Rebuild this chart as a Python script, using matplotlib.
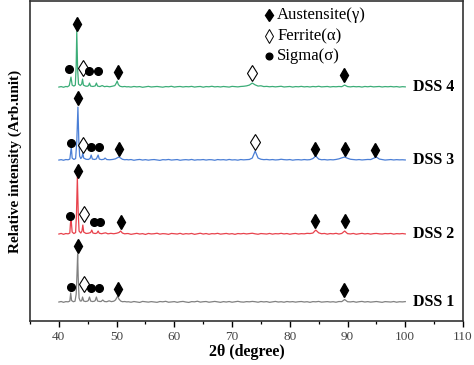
import numpy as np
import matplotlib
matplotlib.use("Agg")
import matplotlib.pyplot as plt
from matplotlib.ticker import MultipleLocator

plt.rcParams['font.family'] = ['Liberation Serif', 'DejaVu Serif']

# ---------------- data (intensity above each pattern's baseline, arb. units) -------------
labels = ["DSS 1", "DSS 2", "DSS 3", "DSS 4"]
colors = ["#808080", "#e8424c", "#4b7fd6", "#3cad78"]
offsets = [19, 87, 161, 234]

dss1_low = [(40.0,0),(40.4,0.5),(40.8,-0.3),(41.2,0.4),(41.6,0.2),(41.9,1),(42.05,9),(42.2,1.5),
            (42.5,0.3),(42.8,0.8),(43.0,8),(43.15,30),(43.25,48),(43.35,25),(43.5,4),(43.7,1),
            (43.95,1.2),(44.1,5),(44.3,1),(44.6,0.5),(44.9,0.8),(45.1,1.5),(45.3,5),(45.5,1),
            (45.8,0.5),(46.1,0.7),(46.3,1.5),(46.5,5),(46.7,1),(47.0,0.6),(47.3,0.5),(47.6,2),
            (47.9,0.5),(48.3,0.3),(48.7,1.2),(49.1,0.4),(49.5,0.8),(49.8,2),(50.0,4),(50.2,6),
            (50.4,3),(50.7,1),(51.0,0.3),(51.4,0.5),(51.8,0.1)]
dss2_low = [(40.0,0),(40.4,0.6),(40.8,-0.3),(41.2,0.5),(41.6,0.2),(41.9,1),(42.0,10),(42.1,16),
            (42.3,2),(42.6,0.5),(42.9,1.5),(43.05,20),(43.2,57),(43.35,22),(43.5,3),(43.8,1),
            (44.0,3),(44.15,9),(44.3,2),(44.7,0.6),(45.1,0.8),(45.5,1.5),(45.7,4),(45.9,1),
            (46.3,0.5),(46.6,1),(46.8,3),(47.0,0.8),(47.4,0.3),(47.8,0.9),(48.1,1.2),(48.5,0.2),
            (49.0,0.7),(49.5,0.3),(50.0,0.8),(50.4,1.5),(50.7,3),(51.0,1),(51.4,0.2),(51.8,0.5)]
dss3_low = [(40.0,0),(40.4,0.4),(40.8,-0.2),(41.2,0.5),(41.6,0.3),(41.9,1),(42.0,6),(42.15,13),
            (42.3,2),(42.6,0.6),(42.9,1.5),(43.1,18),(43.3,53),(43.45,20),(43.6,4),(43.8,1.5),
            (44.0,3),(44.15,7),(44.3,2),(44.7,0.8),(45.1,0.6),(45.4,1.5),(45.6,5),(45.8,1),
            (46.2,0.6),(46.5,1.2),(46.8,5),(47.0,1),(47.4,0.4),(47.8,0.8),(48.0,2),(48.3,0.5),
            (48.8,0.3),(49.3,0.6),(49.8,1.2),(50.2,2.5),(50.4,3),(50.7,2),(51.0,0.8),(51.4,0.3),
            (51.8,0.5)]
dss4_low = [(40.0,0),(40.4,0.5),(40.8,-0.2),(41.2,0.6),(41.5,0.3),(41.8,1.5),(41.95,6),(42.1,10),
            (42.3,2),(42.6,1),(42.85,2),(43.0,22),(43.1,56),(43.25,18),(43.4,3),(43.7,1.5),
            (43.95,3),(44.1,8),(44.25,2),(44.6,1),(44.9,0.8),(45.15,1.5),(45.3,4),(45.5,1),
            (45.9,0.6),(46.3,1.2),(46.5,4),(46.7,1),(47.1,0.5),(47.5,1.5),(47.9,0.4),(48.3,0.8),
            (48.8,0.3),(49.3,0.9),(49.7,1.5),(49.95,4),(50.1,6),(50.3,2.5),(50.6,0.8),(51.0,0.3),
            (51.4,0.6),(51.8,0.2)]

# 52.0 ... 100.0 every 0.5 degree
theta_high = np.arange(52.0, 100.01, 0.5)
dss1_high = [0.3,-0.2,0.5,0.1,-0.4,0.6,0.2,-0.1,0.4,0.0,
             -0.3,0.5,0.2,0.7,-0.2,0.1,0.4,-0.3,0.3,0.6,
             0.0,-0.4,0.4,0.2,0.8,-0.1,0.3,0.5,-0.2,0.2,
             0.6,0.1,-0.3,0.4,0.0,0.5,-0.2,0.3,0.7,0.1,
             -0.1,0.4,0.2,0.6,0.3,-0.2,0.5,0.1,0.4,-0.3,
             0.2,0.6,0.0,0.3,-0.2,0.5,0.1,0.4,-0.1,0.3,
             0.5,0.0,0.3,-0.3,0.4,0.2,0.6,-0.1,0.2,0.4,
             0.0,0.3,-0.2,0.5,0.4,2.5,0.3,0.1,0.5,-0.2,
             0.3,0.6,0.0,0.4,-0.1,0.2,0.5,0.1,-0.3,0.4,
             0.2,0.0,0.5,-0.2,0.3,0.1,0.4]
dss2_high = [0.5,-0.3,0.2,0.7,0.0,0.4,-0.4,0.6,0.1,0.3,
             0.8,-0.1,0.4,0.2,-0.3,0.6,0.3,0.0,0.7,-0.2,
             0.4,0.1,0.6,-0.3,0.3,0.8,0.0,0.5,-0.2,0.4,
             0.2,0.7,-0.1,0.3,0.6,0.0,0.4,-0.3,0.5,0.2,
             0.6,0.1,0.4,0.8,0.2,-0.2,0.5,0.3,0.0,0.6,
             -0.1,0.4,0.2,0.7,0.1,0.5,-0.2,0.3,0.6,0.0,
             0.4,0.2,0.7,0.5,1.0,4.0,1.2,0.3,0.6,-0.1,
             0.5,0.2,0.7,0.0,0.6,3.0,0.4,0.1,0.6,-0.2,
             0.3,0.7,0.1,0.5,-0.1,0.4,0.6,0.2,0.0,0.5,
             0.3,0.6,-0.1,0.4,0.2,0.5,0.1]
dss3_high = [0.2,0.5,-0.2,0.3,0.6,0.0,0.4,-0.1,0.3,0.5,
             0.1,-0.3,0.4,0.2,0.6,0.0,0.3,0.5,-0.2,0.2,
             0.4,0.1,0.6,-0.1,0.3,0.2,0.5,0.0,0.4,0.3,
             -0.2,0.5,0.2,0.4,0.0,0.6,0.1,0.3,-0.1,0.5,
             0.2,0.4,0.6,2.0,9.0,2.0,0.8,0.4,0.6,0.2,
             0.5,0.1,0.3,0.8,0.4,0.2,0.5,-0.1,0.3,0.4,
             0.1,0.5,0.2,0.4,1.5,4.0,1.0,0.3,0.5,0.1,
             0.4,0.2,0.6,1.2,2.2,3.0,1.8,0.8,0.5,0.2,
             0.5,0.1,0.4,0.6,0.5,1.8,3.0,1.0,0.5,0.0,
             0.3,0.5,0.1,0.4,0.2,0.3,0.1]
dss4_high = [0.4,0.0,0.6,0.2,0.5,-0.2,0.3,0.7,0.1,0.4,
             0.6,0.2,-0.1,0.5,0.3,0.8,0.0,0.4,0.6,0.1,
             0.5,0.3,0.7,0.0,0.4,0.6,-0.1,0.5,0.3,0.8,
             0.2,0.5,0.1,0.6,0.3,0.0,0.7,0.4,0.2,0.6,
             0.8,1.2,2.0,4.0,2.2,1.0,1.3,0.5,0.7,0.3,
             0.6,0.2,0.5,0.8,0.1,0.4,0.6,0.0,0.5,0.3,
             0.7,0.2,0.5,0.1,0.6,0.3,0.8,0.2,0.4,0.6,
             0.1,0.5,0.3,0.6,0.4,2.0,0.5,0.2,0.6,0.3,
             0.5,0.0,0.6,0.3,0.7,0.2,0.4,0.6,0.1,0.5,
             0.3,0.6,0.2,0.5,0.0,0.4,0.2]

lows = [dss1_low, dss2_low, dss3_low, dss4_low]
highs = [dss1_high, dss2_high, dss3_high, dss4_high]

# phase markers: (2theta, height on plot scale)
austenite = [(43.3,75),(50.2,32),(89.4,31),
             (43.3,150),(50.8,99),(84.4,100),(89.5,100),
             (43.3,223),(50.5,172),(84.3,172),(89.5,172),(94.8,171),
             (43.1,297),(50.2,249),(89.4,246)]
ferrite = [(44.3,37),(44.3,107),(44.2,176),(73.9,179),(44.1,253),(73.4,248)]
sigma = [(42.1,34),(45.6,33),(47.0,33),
         (42.0,105),(46.0,99),(47.1,99),
         (42.05,178),(45.6,174),(47.0,174),
         (41.8,252),(45.3,250),(46.7,250)]

legend_labels = ["Austensite(\u03b3)", "Ferrite(\u03b1)", "Sigma(\u03c3)"]
legend_y = [306, 285, 265]

# ---------------- plot ----------------
fig = plt.figure(figsize=(4.74, 3.65), dpi=100)
ax = fig.add_axes([0.0633, 0.1205, 0.9135, 0.8765])

for low, high, off, col, lab in zip(lows, highs, offsets, colors, labels):
    x = np.concatenate([[p[0] for p in low], theta_high])
    y = np.concatenate([[p[1] for p in low], high]) + off
    ax.plot(x, y, color=col, lw=0.9)
    ax.text(101.4, off, lab, fontsize=11.5, fontweight='bold', va='center', ha='left')

ax.plot([p[0] for p in austenite], [p[1] for p in austenite], ls='none', marker='d',
        ms=7, color='black')
ax.plot([p[0] for p in ferrite], [p[1] for p in ferrite], ls='none', marker='d',
        ms=8, mfc='white', mec='black', mew=0.8)
ax.plot([p[0] for p in sigma], [p[1] for p in sigma], ls='none', marker='o',
        ms=5.5, color='black')

# legend drawn as text rows
leg_markers = [dict(marker='d', ms=6, color='black'),
               dict(marker='d', ms=7, mfc='white', mec='black', mew=0.7),
               dict(marker='o', ms=4.8, color='black')]
for lab, yy, mk in zip(legend_labels, legend_y, leg_markers):
    ax.plot([76.4], [yy], ls='none', **mk)
    ax.text(77.8, yy, lab, fontsize=12, va='center', ha='left')

ax.set_xlim(35, 110)
ax.set_ylim(0, 320)
ax.xaxis.set_major_locator(MultipleLocator(10))
ax.xaxis.set_minor_locator(MultipleLocator(5))
ax.set_xticks([40, 50, 60, 70, 80, 90, 100, 110])
ax.set_yticks([])
ax.tick_params(axis='x', which='major', direction='out', length=4, width=1.0,
               labelsize=9.5, labelcolor='#444444', pad=3)
ax.tick_params(axis='x', which='minor', direction='out', length=2.5, width=0.9)
for sp in ax.spines.values():
    sp.set_linewidth(1.2)
    sp.set_color('#333333')

ax.set_xlabel("2\u03b8 (degree)", fontsize=11.5, fontweight='bold', labelpad=1)
ax.set_ylabel("Relative intensity (Arb.unit)", fontsize=11, fontweight='bold', labelpad=6)

fig.savefig("out.png", dpi=100)
